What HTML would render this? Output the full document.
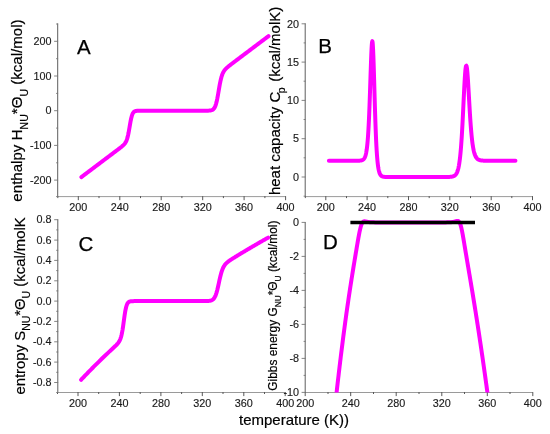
<!DOCTYPE html>
<html><head><meta charset="utf-8"><title>figure</title>
<style>html,body{margin:0;padding:0;background:#fff}svg{display:block}</style></head>
<body>
<svg width="550" height="434" viewBox="0 0 550 434" font-family="'Liberation Sans', Arial, sans-serif">
<rect width="550" height="434" fill="#fff"/>
<path d="M57.7,196.6 H285.8" fill="none" stroke="#8f8f8f" stroke-width="0.9"/>
<path d="M57.7,23.4 V196.6" fill="none" stroke="#5e5e5e" stroke-width="1"/>
<path d="M78.3,196.2 v4 M119.8,196.2 v4 M161.2,196.2 v4 M202.7,196.2 v4 M244.1,196.2 v4 M285.6,196.2 v4 M57.8,196.2 v1.9 M99.0,196.2 v1.9 M140.5,196.2 v1.9 M181.9,196.2 v1.9 M223.4,196.2 v1.9 M264.9,196.2 v1.9 " fill="none" stroke="#444" stroke-width="0.9"/>
<path d="M58.1,41.3 h-4 M58.1,76.0 h-4 M58.1,110.7 h-4 M58.1,145.4 h-4 M58.1,180.1 h-4 M58.1,24.0 h-2.0 M58.1,58.7 h-2.0 M58.1,93.4 h-2.0 M58.1,128.1 h-2.0 M58.1,162.8 h-2.0 M58.1,196.6 h-2.0 " fill="none" stroke="#777" stroke-width="0.9"/>
<text x="78.3" y="211.1" font-size="10.8" text-anchor="middle" fill="#1a1a1a" stroke="#1a1a1a" stroke-width="0.15">200</text>
<text x="119.8" y="211.1" font-size="10.8" text-anchor="middle" fill="#1a1a1a" stroke="#1a1a1a" stroke-width="0.15">240</text>
<text x="161.2" y="211.1" font-size="10.8" text-anchor="middle" fill="#1a1a1a" stroke="#1a1a1a" stroke-width="0.15">280</text>
<text x="202.7" y="211.1" font-size="10.8" text-anchor="middle" fill="#1a1a1a" stroke="#1a1a1a" stroke-width="0.15">320</text>
<text x="244.1" y="211.1" font-size="10.8" text-anchor="middle" fill="#1a1a1a" stroke="#1a1a1a" stroke-width="0.15">360</text>
<text x="285.6" y="211.1" font-size="10.8" text-anchor="middle" fill="#1a1a1a" stroke="#1a1a1a" stroke-width="0.15">400</text>
<text x="51.5" y="45.0" font-size="10.8" text-anchor="end" fill="#1a1a1a" stroke="#1a1a1a" stroke-width="0.15">200</text>
<text x="51.5" y="79.7" font-size="10.8" text-anchor="end" fill="#1a1a1a" stroke="#1a1a1a" stroke-width="0.15">100</text>
<text x="51.5" y="114.4" font-size="10.8" text-anchor="end" fill="#1a1a1a" stroke="#1a1a1a" stroke-width="0.15">0</text>
<text x="51.5" y="149.1" font-size="10.8" text-anchor="end" fill="#1a1a1a" stroke="#1a1a1a" stroke-width="0.15">-100</text>
<text x="51.5" y="183.8" font-size="10.8" text-anchor="end" fill="#1a1a1a" stroke="#1a1a1a" stroke-width="0.15">-200</text>
<path d="M81.41,177.06 L81.93,176.67 L82.45,176.28 L82.96,175.89 L83.48,175.50 L84.00,175.11 L84.52,174.72 L85.04,174.33 L85.56,173.94 L86.07,173.55 L86.59,173.16 L87.11,172.77 L87.63,172.38 L88.15,171.99 L88.66,171.60 L89.18,171.21 L89.70,170.82 L90.22,170.43 L90.74,170.04 L91.26,169.65 L91.77,169.26 L92.29,168.87 L92.81,168.48 L93.33,168.09 L93.85,167.69 L94.37,167.30 L94.88,166.91 L95.40,166.52 L95.92,166.13 L96.44,165.74 L96.96,165.35 L97.48,164.96 L97.99,164.57 L98.51,164.18 L99.03,163.79 L99.55,163.40 L100.07,163.01 L100.58,162.62 L101.10,162.23 L101.62,161.84 L102.14,161.45 L102.66,161.06 L103.18,160.67 L103.69,160.28 L104.21,159.89 L104.73,159.50 L105.25,159.11 L105.77,158.72 L106.29,158.33 L106.80,157.94 L107.32,157.54 L107.84,157.15 L108.36,156.76 L108.88,156.37 L109.39,155.98 L109.91,155.59 L110.43,155.20 L110.95,154.81 L111.47,154.42 L111.99,154.03 L112.50,153.64 L113.02,153.25 L113.54,152.86 L114.06,152.47 L114.58,152.08 L115.10,151.69 L115.61,151.30 L116.13,150.91 L116.65,150.52 L117.17,150.12 L117.69,149.73 L118.21,149.34 L118.72,148.95 L119.24,148.55 L119.76,148.15 L120.28,147.75 L120.80,147.35 L121.31,146.94 L121.83,146.52 L122.35,146.08 L122.87,145.63 L123.39,145.15 L123.91,144.63 L124.42,144.05 L124.94,143.39 L125.46,142.62 L125.98,141.69 L126.50,140.55 L127.02,139.15 L127.53,137.40 L128.05,135.28 L128.57,132.77 L129.09,129.93 L129.61,126.88 L130.12,123.83 L130.64,120.97 L131.16,118.47 L131.68,116.41 L132.20,114.79 L132.72,113.58 L133.23,112.70 L133.75,112.07 L134.27,111.64 L134.79,111.34 L135.31,111.13 L135.83,110.99 L136.34,110.89 L136.86,110.83 L137.38,110.79 L137.90,110.76 L138.42,110.74 L138.94,110.73 L139.45,110.72 L139.97,110.71 L140.49,110.71 L141.01,110.71 L141.53,110.70 L142.04,110.70 L142.56,110.70 L143.08,110.70 L143.60,110.70 L144.12,110.70 L144.64,110.70 L145.15,110.70 L145.67,110.70 L146.19,110.70 L146.71,110.70 L147.23,110.70 L147.75,110.70 L148.26,110.70 L148.78,110.70 L149.30,110.70 L149.82,110.70 L150.34,110.70 L150.85,110.70 L151.37,110.70 L151.89,110.70 L152.41,110.70 L152.93,110.70 L153.45,110.70 L153.96,110.70 L154.48,110.70 L155.00,110.70 L155.52,110.70 L156.04,110.70 L156.56,110.70 L157.07,110.70 L157.59,110.70 L158.11,110.70 L158.63,110.70 L159.15,110.70 L159.67,110.70 L160.18,110.70 L160.70,110.70 L161.22,110.70 L161.74,110.70 L162.26,110.70 L162.77,110.70 L163.29,110.70 L163.81,110.70 L164.33,110.70 L164.85,110.70 L165.37,110.70 L165.88,110.70 L166.40,110.70 L166.92,110.70 L167.44,110.70 L167.96,110.70 L168.48,110.70 L168.99,110.70 L169.51,110.70 L170.03,110.70 L170.55,110.70 L171.07,110.70 L171.58,110.70 L172.10,110.70 L172.62,110.70 L173.14,110.70 L173.66,110.70 L174.18,110.70 L174.69,110.70 L175.21,110.70 L175.73,110.70 L176.25,110.70 L176.77,110.70 L177.29,110.70 L177.80,110.70 L178.32,110.70 L178.84,110.70 L179.36,110.70 L179.88,110.70 L180.40,110.70 L180.91,110.70 L181.43,110.70 L181.95,110.70 L182.47,110.70 L182.99,110.70 L183.50,110.70 L184.02,110.70 L184.54,110.70 L185.06,110.70 L185.58,110.70 L186.10,110.70 L186.61,110.70 L187.13,110.70 L187.65,110.70 L188.17,110.70 L188.69,110.70 L189.21,110.70 L189.72,110.70 L190.24,110.70 L190.76,110.70 L191.28,110.70 L191.80,110.70 L192.31,110.70 L192.83,110.70 L193.35,110.70 L193.87,110.70 L194.39,110.70 L194.91,110.70 L195.42,110.70 L195.94,110.70 L196.46,110.70 L196.98,110.70 L197.50,110.70 L198.02,110.70 L198.53,110.70 L199.05,110.70 L199.57,110.70 L200.09,110.70 L200.61,110.70 L201.13,110.70 L201.64,110.70 L202.16,110.70 L202.68,110.70 L203.20,110.70 L203.72,110.70 L204.23,110.70 L204.75,110.69 L205.27,110.69 L205.79,110.69 L206.31,110.68 L206.83,110.67 L207.34,110.66 L207.86,110.65 L208.38,110.63 L208.90,110.61 L209.42,110.57 L209.94,110.52 L210.45,110.45 L210.97,110.36 L211.49,110.23 L212.01,110.05 L212.53,109.81 L213.05,109.48 L213.56,109.03 L214.08,108.43 L214.60,107.64 L215.12,106.61 L215.64,105.28 L216.15,103.61 L216.67,101.58 L217.19,99.18 L217.71,96.46 L218.23,93.50 L218.75,90.42 L219.26,87.37 L219.78,84.47 L220.30,81.82 L220.82,79.47 L221.34,77.44 L221.86,75.72 L222.37,74.27 L222.89,73.05 L223.41,72.03 L223.93,71.15 L224.45,70.39 L224.96,69.73 L225.48,69.13 L226.00,68.59 L226.52,68.08 L227.04,67.61 L227.56,67.16 L228.07,66.72 L228.59,66.29 L229.11,65.88 L229.63,65.47 L230.15,65.07 L230.67,64.66 L231.18,64.27 L231.70,63.87 L232.22,63.48 L232.74,63.08 L233.26,62.69 L233.77,62.30 L234.29,61.91 L234.81,61.52 L235.33,61.12 L235.85,60.73 L236.37,60.34 L236.88,59.95 L237.40,59.56 L237.92,59.17 L238.44,58.78 L238.96,58.39 L239.48,58.00 L239.99,57.61 L240.51,57.22 L241.03,56.83 L241.55,56.44 L242.07,56.05 L242.59,55.66 L243.10,55.27 L243.62,54.88 L244.14,54.49 L244.66,54.10 L245.18,53.71 L245.69,53.31 L246.21,52.92 L246.73,52.53 L247.25,52.14 L247.77,51.75 L248.29,51.36 L248.80,50.97 L249.32,50.58 L249.84,50.19 L250.36,49.80 L250.88,49.41 L251.40,49.02 L251.91,48.63 L252.43,48.24 L252.95,47.85 L253.47,47.46 L253.99,47.07 L254.50,46.68 L255.02,46.29 L255.54,45.90 L256.06,45.51 L256.58,45.12 L257.10,44.73 L257.61,44.34 L258.13,43.95 L258.65,43.56 L259.17,43.17 L259.69,42.77 L260.21,42.38 L260.72,41.99 L261.24,41.60 L261.76,41.21 L262.28,40.82 L262.80,40.43 L263.32,40.04 L263.83,39.65 L264.35,39.26 L264.87,38.87 L265.39,38.48 L265.91,38.09 L266.42,37.70 L266.94,37.31 L267.46,36.92 L267.98,36.53 L268.50,36.14" fill="none" stroke="#ff00ff" stroke-width="4.0" stroke-linecap="round" stroke-linejoin="round"/>
<text x="77.1" y="54.2" font-size="20.5" stroke="#000" stroke-width="0.25">A</text>
<path d="M305.2,196.6 H532.8" fill="none" stroke="#8f8f8f" stroke-width="0.9"/>
<path d="M305.2,23.4 V196.6" fill="none" stroke="#5e5e5e" stroke-width="1"/>
<path d="M325.8,196.2 v4 M367.1,196.2 v4 M408.5,196.2 v4 M449.8,196.2 v4 M491.2,196.2 v4 M532.5,196.2 v4 M305.3,196.2 v1.9 M346.5,196.2 v1.9 M387.8,196.2 v1.9 M429.2,196.2 v1.9 M470.5,196.2 v1.9 M511.8,196.2 v1.9 " fill="none" stroke="#444" stroke-width="0.9"/>
<path d="M305.59999999999997,23.8 h-4 M305.59999999999997,62.1 h-4 M305.59999999999997,100.4 h-4 M305.59999999999997,138.7 h-4 M305.59999999999997,177.0 h-4 M305.59999999999997,42.9 h-2.0 M305.59999999999997,81.2 h-2.0 M305.59999999999997,119.5 h-2.0 M305.59999999999997,157.8 h-2.0 M305.59999999999997,196.2 h-2.0 " fill="none" stroke="#777" stroke-width="0.9"/>
<text x="325.8" y="211.1" font-size="10.8" text-anchor="middle" fill="#1a1a1a" stroke="#1a1a1a" stroke-width="0.15">200</text>
<text x="367.1" y="211.1" font-size="10.8" text-anchor="middle" fill="#1a1a1a" stroke="#1a1a1a" stroke-width="0.15">240</text>
<text x="408.5" y="211.1" font-size="10.8" text-anchor="middle" fill="#1a1a1a" stroke="#1a1a1a" stroke-width="0.15">280</text>
<text x="449.8" y="211.1" font-size="10.8" text-anchor="middle" fill="#1a1a1a" stroke="#1a1a1a" stroke-width="0.15">320</text>
<text x="491.2" y="211.1" font-size="10.8" text-anchor="middle" fill="#1a1a1a" stroke="#1a1a1a" stroke-width="0.15">360</text>
<text x="532.5" y="211.1" font-size="10.8" text-anchor="middle" fill="#1a1a1a" stroke="#1a1a1a" stroke-width="0.15">400</text>
<text x="299.0" y="27.5" font-size="10.8" text-anchor="end" fill="#1a1a1a" stroke="#1a1a1a" stroke-width="0.15">20</text>
<text x="299.0" y="65.8" font-size="10.8" text-anchor="end" fill="#1a1a1a" stroke="#1a1a1a" stroke-width="0.15">15</text>
<text x="299.0" y="104.1" font-size="10.8" text-anchor="end" fill="#1a1a1a" stroke="#1a1a1a" stroke-width="0.15">10</text>
<text x="299.0" y="142.3" font-size="10.8" text-anchor="end" fill="#1a1a1a" stroke="#1a1a1a" stroke-width="0.15">5</text>
<text x="299.0" y="180.7" font-size="10.8" text-anchor="end" fill="#1a1a1a" stroke="#1a1a1a" stroke-width="0.15">0</text>
<path d="M328.90,160.76 L329.16,160.76 L329.42,160.76 L329.68,160.76 L329.93,160.76 L330.19,160.76 L330.45,160.76 L330.71,160.76 L330.97,160.76 L331.23,160.76 L331.48,160.76 L331.74,160.76 L332.00,160.76 L332.26,160.76 L332.52,160.76 L332.78,160.76 L333.03,160.76 L333.29,160.76 L333.55,160.76 L333.81,160.76 L334.07,160.76 L334.33,160.76 L334.58,160.76 L334.84,160.76 L335.10,160.76 L335.36,160.76 L335.62,160.76 L335.88,160.76 L336.13,160.76 L336.39,160.76 L336.65,160.76 L336.91,160.76 L337.17,160.76 L337.43,160.76 L337.69,160.76 L337.94,160.76 L338.20,160.76 L338.46,160.76 L338.72,160.76 L338.98,160.76 L339.24,160.76 L339.49,160.76 L339.75,160.76 L340.01,160.76 L340.27,160.76 L340.53,160.76 L340.79,160.76 L341.04,160.76 L341.30,160.76 L341.56,160.76 L341.82,160.76 L342.08,160.76 L342.34,160.76 L342.59,160.76 L342.85,160.76 L343.11,160.76 L343.37,160.76 L343.63,160.76 L343.89,160.76 L344.14,160.76 L344.40,160.76 L344.66,160.76 L344.92,160.76 L345.18,160.76 L345.44,160.76 L345.69,160.76 L345.95,160.76 L346.21,160.76 L346.47,160.76 L346.73,160.76 L346.99,160.76 L347.25,160.76 L347.50,160.76 L347.76,160.76 L348.02,160.76 L348.28,160.76 L348.54,160.76 L348.80,160.76 L349.05,160.76 L349.31,160.76 L349.57,160.76 L349.83,160.76 L350.09,160.76 L350.35,160.76 L350.60,160.76 L350.86,160.76 L351.12,160.76 L351.38,160.76 L351.64,160.76 L351.90,160.76 L352.15,160.76 L352.41,160.76 L352.67,160.76 L352.93,160.76 L353.19,160.76 L353.45,160.76 L353.70,160.76 L353.96,160.76 L354.22,160.76 L354.48,160.76 L354.74,160.76 L355.00,160.75 L355.25,160.75 L355.51,160.75 L355.77,160.75 L356.03,160.75 L356.29,160.75 L356.55,160.74 L356.81,160.74 L357.06,160.74 L357.32,160.73 L357.58,160.73 L357.84,160.72 L358.10,160.72 L358.36,160.71 L358.61,160.70 L358.87,160.69 L359.13,160.68 L359.39,160.66 L359.65,160.64 L359.91,160.62 L360.16,160.59 L360.42,160.56 L360.68,160.53 L360.94,160.48 L361.20,160.43 L361.46,160.37 L361.71,160.30 L361.97,160.22 L362.23,160.12 L362.49,160.01 L362.75,159.87 L363.01,159.71 L363.26,159.52 L363.52,159.29 L363.78,159.02 L364.04,158.71 L364.30,158.34 L364.56,157.90 L364.81,157.39 L365.07,156.79 L365.33,156.07 L365.59,155.24 L365.85,154.26 L366.11,153.11 L366.36,151.76 L366.62,150.19 L366.88,148.36 L367.14,146.23 L367.40,143.77 L367.66,140.92 L367.92,137.65 L368.17,133.91 L368.43,129.66 L368.69,124.86 L368.95,119.49 L369.21,113.54 L369.47,107.03 L369.72,100.00 L369.98,92.54 L370.24,84.78 L370.50,76.89 L370.76,69.11 L371.02,61.72 L371.27,55.01 L371.53,49.32 L371.79,44.94 L372.05,42.16 L372.31,41.15 L372.57,42.02 L372.82,44.77 L373.08,49.26 L373.34,55.30 L373.60,62.58 L373.86,70.78 L374.12,79.56 L374.37,88.60 L374.63,97.60 L374.89,106.34 L375.15,114.64 L375.41,122.36 L375.67,129.44 L375.92,135.83 L376.18,141.54 L376.44,146.59 L376.70,151.02 L376.96,154.88 L377.22,158.21 L377.48,161.08 L377.73,163.54 L377.99,165.64 L378.25,167.42 L378.51,168.94 L378.77,170.22 L379.03,171.31 L379.28,172.22 L379.54,172.99 L379.80,173.64 L380.06,174.18 L380.32,174.64 L380.58,175.02 L380.83,175.35 L381.09,175.62 L381.35,175.84 L381.61,176.03 L381.87,176.19 L382.13,176.32 L382.38,176.43 L382.64,176.53 L382.90,176.60 L383.16,176.67 L383.42,176.72 L383.68,176.77 L383.93,176.81 L384.19,176.84 L384.45,176.87 L384.71,176.89 L384.97,176.91 L385.23,176.92 L385.48,176.93 L385.74,176.95 L386.00,176.95 L386.26,176.96 L386.52,176.97 L386.78,176.97 L387.03,176.98 L387.29,176.98 L387.55,176.98 L387.81,176.99 L388.07,176.99 L388.33,176.99 L388.59,176.99 L388.84,176.99 L389.10,176.99 L389.36,177.00 L389.62,177.00 L389.88,177.00 L390.14,177.00 L390.39,177.00 L390.65,177.00 L390.91,177.00 L391.17,177.00 L391.43,177.00 L391.69,177.00 L391.94,177.00 L392.20,177.00 L392.46,177.00 L392.72,177.00 L392.98,177.00 L393.24,177.00 L393.49,177.00 L393.75,177.00 L394.01,177.00 L394.27,177.00 L394.53,177.00 L394.79,177.00 L395.04,177.00 L395.30,177.00 L395.56,177.00 L395.82,177.00 L396.08,177.00 L396.34,177.00 L396.59,177.00 L396.85,177.00 L397.11,177.00 L397.37,177.00 L397.63,177.00 L397.89,177.00 L398.14,177.00 L398.40,177.00 L398.66,177.00 L398.92,177.00 L399.18,177.00 L399.44,177.00 L399.70,177.00 L399.95,177.00 L400.21,177.00 L400.47,177.00 L400.73,177.00 L400.99,177.00 L401.25,177.00 L401.50,177.00 L401.76,177.00 L402.02,177.00 L402.28,177.00 L402.54,177.00 L402.80,177.00 L403.05,177.00 L403.31,177.00 L403.57,177.00 L403.83,177.00 L404.09,177.00 L404.35,177.00 L404.60,177.00 L404.86,177.00 L405.12,177.00 L405.38,177.00 L405.64,177.00 L405.90,177.00 L406.15,177.00 L406.41,177.00 L406.67,177.00 L406.93,177.00 L407.19,177.00 L407.45,177.00 L407.70,177.00 L407.96,177.00 L408.22,177.00 L408.48,177.00 L408.74,177.00 L409.00,177.00 L409.26,177.00 L409.51,177.00 L409.77,177.00 L410.03,177.00 L410.29,177.00 L410.55,177.00 L410.81,177.00 L411.06,177.00 L411.32,177.00 L411.58,177.00 L411.84,177.00 L412.10,177.00 L412.36,177.00 L412.61,177.00 L412.87,177.00 L413.13,177.00 L413.39,177.00 L413.65,177.00 L413.91,177.00 L414.16,177.00 L414.42,177.00 L414.68,177.00 L414.94,177.00 L415.20,177.00 L415.46,177.00 L415.71,177.00 L415.97,177.00 L416.23,177.00 L416.49,177.00 L416.75,177.00 L417.01,177.00 L417.26,177.00 L417.52,177.00 L417.78,177.00 L418.04,177.00 L418.30,177.00 L418.56,177.00 L418.82,177.00 L419.07,177.00 L419.33,177.00 L419.59,177.00 L419.85,177.00 L420.11,177.00 L420.37,177.00 L420.62,177.00 L420.88,177.00 L421.14,177.00 L421.40,177.00 L421.66,177.00 L421.92,177.00 L422.17,177.00 L422.43,177.00 L422.69,177.00 L422.95,177.00 L423.21,177.00 L423.47,177.00 L423.72,177.00 L423.98,177.00 L424.24,177.00 L424.50,177.00 L424.76,177.00 L425.02,177.00 L425.27,177.00 L425.53,177.00 L425.79,177.00 L426.05,177.00 L426.31,177.00 L426.57,177.00 L426.82,177.00 L427.08,177.00 L427.34,177.00 L427.60,177.00 L427.86,177.00 L428.12,177.00 L428.37,177.00 L428.63,177.00 L428.89,177.00 L429.15,177.00 L429.41,177.00 L429.67,177.00 L429.93,177.00 L430.18,177.00 L430.44,177.00 L430.70,177.00 L430.96,177.00 L431.22,177.00 L431.48,177.00 L431.73,177.00 L431.99,177.00 L432.25,177.00 L432.51,177.00 L432.77,177.00 L433.03,177.00 L433.28,177.00 L433.54,177.00 L433.80,177.00 L434.06,177.00 L434.32,177.00 L434.58,177.00 L434.83,177.00 L435.09,177.00 L435.35,177.00 L435.61,177.00 L435.87,177.00 L436.13,177.00 L436.38,177.00 L436.64,177.00 L436.90,177.00 L437.16,177.00 L437.42,177.00 L437.68,177.00 L437.93,177.00 L438.19,177.00 L438.45,177.00 L438.71,177.00 L438.97,177.00 L439.23,177.00 L439.49,177.00 L439.74,177.00 L440.00,177.00 L440.26,177.00 L440.52,177.00 L440.78,177.00 L441.04,177.00 L441.29,177.00 L441.55,177.00 L441.81,177.00 L442.07,177.00 L442.33,177.00 L442.59,177.00 L442.84,177.00 L443.10,177.00 L443.36,177.00 L443.62,177.00 L443.88,176.99 L444.14,176.99 L444.39,176.99 L444.65,176.99 L444.91,176.99 L445.17,176.99 L445.43,176.99 L445.69,176.99 L445.94,176.98 L446.20,176.98 L446.46,176.98 L446.72,176.98 L446.98,176.97 L447.24,176.97 L447.49,176.96 L447.75,176.96 L448.01,176.95 L448.27,176.95 L448.53,176.94 L448.79,176.93 L449.04,176.92 L449.30,176.91 L449.56,176.90 L449.82,176.88 L450.08,176.86 L450.34,176.84 L450.60,176.82 L450.85,176.80 L451.11,176.77 L451.37,176.74 L451.63,176.70 L451.89,176.66 L452.15,176.61 L452.40,176.55 L452.66,176.49 L452.92,176.42 L453.18,176.34 L453.44,176.24 L453.70,176.14 L453.95,176.02 L454.21,175.88 L454.47,175.72 L454.73,175.55 L454.99,175.34 L455.25,175.11 L455.50,174.85 L455.76,174.55 L456.02,174.22 L456.28,173.83 L456.54,173.40 L456.80,172.90 L457.05,172.34 L457.31,171.71 L457.57,170.99 L457.83,170.18 L458.09,169.27 L458.35,168.24 L458.60,167.07 L458.86,165.77 L459.12,164.30 L459.38,162.66 L459.64,160.83 L459.90,158.78 L460.16,156.51 L460.41,154.00 L460.67,151.22 L460.93,148.17 L461.19,144.83 L461.45,141.20 L461.71,137.27 L461.96,133.05 L462.22,128.54 L462.48,123.77 L462.74,118.77 L463.00,113.58 L463.26,108.26 L463.51,102.87 L463.77,97.50 L464.03,92.23 L464.29,87.17 L464.55,82.42 L464.81,78.09 L465.06,74.28 L465.32,71.08 L465.58,68.57 L465.84,66.81 L466.10,65.85 L466.36,65.69 L466.61,66.32 L466.87,67.71 L467.13,69.81 L467.39,72.53 L467.65,75.79 L467.91,79.50 L468.16,83.56 L468.42,87.87 L468.68,92.33 L468.94,96.87 L469.20,101.40 L469.46,105.87 L469.71,110.21 L469.97,114.39 L470.23,118.37 L470.49,122.14 L470.75,125.67 L471.01,128.97 L471.27,132.02 L471.52,134.83 L471.78,137.42 L472.04,139.78 L472.30,141.93 L472.56,143.89 L472.82,145.66 L473.07,147.25 L473.33,148.70 L473.59,149.99 L473.85,151.16 L474.11,152.20 L474.37,153.14 L474.62,153.98 L474.88,154.72 L475.14,155.39 L475.40,155.99 L475.66,156.52 L475.92,156.99 L476.17,157.41 L476.43,157.79 L476.69,158.12 L476.95,158.42 L477.21,158.68 L477.47,158.92 L477.72,159.13 L477.98,159.31 L478.24,159.47 L478.50,159.62 L478.76,159.75 L479.02,159.86 L479.27,159.97 L479.53,160.06 L479.79,160.14 L480.05,160.21 L480.31,160.27 L480.57,160.33 L480.83,160.37 L481.08,160.42 L481.34,160.46 L481.60,160.49 L481.86,160.52 L482.12,160.55 L482.38,160.57 L482.63,160.59 L482.89,160.61 L483.15,160.63 L483.41,160.65 L483.67,160.66 L483.93,160.67 L484.18,160.68 L484.44,160.69 L484.70,160.70 L484.96,160.70 L485.22,160.71 L485.48,160.72 L485.73,160.72 L485.99,160.73 L486.25,160.73 L486.51,160.73 L486.77,160.74 L487.03,160.74 L487.28,160.74 L487.54,160.74 L487.80,160.75 L488.06,160.75 L488.32,160.75 L488.58,160.75 L488.83,160.75 L489.09,160.75 L489.35,160.75 L489.61,160.75 L489.87,160.76 L490.13,160.76 L490.38,160.76 L490.64,160.76 L490.90,160.76 L491.16,160.76 L491.42,160.76 L491.68,160.76 L491.94,160.76 L492.19,160.76 L492.45,160.76 L492.71,160.76 L492.97,160.76 L493.23,160.76 L493.49,160.76 L493.74,160.76 L494.00,160.76 L494.26,160.76 L494.52,160.76 L494.78,160.76 L495.04,160.76 L495.29,160.76 L495.55,160.76 L495.81,160.76 L496.07,160.76 L496.33,160.76 L496.59,160.76 L496.84,160.76 L497.10,160.76 L497.36,160.76 L497.62,160.76 L497.88,160.76 L498.14,160.76 L498.39,160.76 L498.65,160.76 L498.91,160.76 L499.17,160.76 L499.43,160.76 L499.69,160.76 L499.94,160.76 L500.20,160.76 L500.46,160.76 L500.72,160.76 L500.98,160.76 L501.24,160.76 L501.50,160.76 L501.75,160.76 L502.01,160.76 L502.27,160.76 L502.53,160.76 L502.79,160.76 L503.05,160.76 L503.30,160.76 L503.56,160.76 L503.82,160.76 L504.08,160.76 L504.34,160.76 L504.60,160.76 L504.85,160.76 L505.11,160.76 L505.37,160.76 L505.63,160.76 L505.89,160.76 L506.15,160.76 L506.40,160.76 L506.66,160.76 L506.92,160.76 L507.18,160.76 L507.44,160.76 L507.70,160.76 L507.95,160.76 L508.21,160.76 L508.47,160.76 L508.73,160.76 L508.99,160.76 L509.25,160.76 L509.50,160.76 L509.76,160.76 L510.02,160.76 L510.28,160.76 L510.54,160.76 L510.80,160.76 L511.05,160.76 L511.31,160.76 L511.57,160.76 L511.83,160.76 L512.09,160.76 L512.35,160.76 L512.61,160.76 L512.86,160.76 L513.12,160.76 L513.38,160.76 L513.64,160.76 L513.90,160.76 L514.16,160.76 L514.41,160.76 L514.67,160.76 L514.93,160.76 L515.19,160.76 L515.45,160.76" fill="none" stroke="#ff00ff" stroke-width="4.0" stroke-linecap="round" stroke-linejoin="round"/>
<text x="318.2" y="53.1" font-size="20.5" stroke="#000" stroke-width="0.25">B</text>
<path d="M57.8,392.5 H285.8" fill="none" stroke="#8f8f8f" stroke-width="0.9"/>
<path d="M57.8,219.4 V392.5" fill="none" stroke="#5e5e5e" stroke-width="1"/>
<path d="M78.0,392.1 v4 M119.4,392.1 v4 M160.9,392.1 v4 M202.3,392.1 v4 M243.8,392.1 v4 M285.2,392.1 v4 M57.5,392.1 v1.9 M98.7,392.1 v1.9 M140.2,392.1 v1.9 M181.6,392.1 v1.9 M223.0,392.1 v1.9 M264.5,392.1 v1.9 " fill="none" stroke="#444" stroke-width="0.9"/>
<path d="M58.199999999999996,219.7 h-4 M58.199999999999996,240.1 h-4 M58.199999999999996,260.4 h-4 M58.199999999999996,280.8 h-4 M58.199999999999996,301.1 h-4 M58.199999999999996,321.4 h-4 M58.199999999999996,341.8 h-4 M58.199999999999996,362.1 h-4 M58.199999999999996,382.5 h-4 M58.199999999999996,229.9 h-2.0 M58.199999999999996,250.3 h-2.0 M58.199999999999996,270.6 h-2.0 M58.199999999999996,290.9 h-2.0 M58.199999999999996,311.3 h-2.0 M58.199999999999996,331.6 h-2.0 M58.199999999999996,352.0 h-2.0 M58.199999999999996,372.3 h-2.0 M58.199999999999996,392.5 h-2.0 " fill="none" stroke="#777" stroke-width="0.9"/>
<text x="78.0" y="406.7" font-size="10.8" text-anchor="middle" fill="#1a1a1a" stroke="#1a1a1a" stroke-width="0.15">200</text>
<text x="119.4" y="406.7" font-size="10.8" text-anchor="middle" fill="#1a1a1a" stroke="#1a1a1a" stroke-width="0.15">240</text>
<text x="160.9" y="406.7" font-size="10.8" text-anchor="middle" fill="#1a1a1a" stroke="#1a1a1a" stroke-width="0.15">280</text>
<text x="202.3" y="406.7" font-size="10.8" text-anchor="middle" fill="#1a1a1a" stroke="#1a1a1a" stroke-width="0.15">320</text>
<text x="243.8" y="406.7" font-size="10.8" text-anchor="middle" fill="#1a1a1a" stroke="#1a1a1a" stroke-width="0.15">360</text>
<text x="285.2" y="406.7" font-size="10.8" text-anchor="middle" fill="#1a1a1a" stroke="#1a1a1a" stroke-width="0.15">400</text>
<text x="51.599999999999994" y="223.4" font-size="10.8" text-anchor="end" fill="#1a1a1a" stroke="#1a1a1a" stroke-width="0.15">0.8</text>
<text x="51.599999999999994" y="243.7" font-size="10.8" text-anchor="end" fill="#1a1a1a" stroke="#1a1a1a" stroke-width="0.15">0.6</text>
<text x="51.599999999999994" y="264.1" font-size="10.8" text-anchor="end" fill="#1a1a1a" stroke="#1a1a1a" stroke-width="0.15">0.4</text>
<text x="51.599999999999994" y="284.4" font-size="10.8" text-anchor="end" fill="#1a1a1a" stroke="#1a1a1a" stroke-width="0.15">0.2</text>
<text x="51.599999999999994" y="304.8" font-size="10.8" text-anchor="end" fill="#1a1a1a" stroke="#1a1a1a" stroke-width="0.15">0.0</text>
<text x="51.599999999999994" y="325.1" font-size="10.8" text-anchor="end" fill="#1a1a1a" stroke="#1a1a1a" stroke-width="0.15">-0.2</text>
<text x="51.599999999999994" y="345.4" font-size="10.8" text-anchor="end" fill="#1a1a1a" stroke="#1a1a1a" stroke-width="0.15">-0.4</text>
<text x="51.599999999999994" y="365.8" font-size="10.8" text-anchor="end" fill="#1a1a1a" stroke="#1a1a1a" stroke-width="0.15">-0.6</text>
<text x="51.599999999999994" y="386.1" font-size="10.8" text-anchor="end" fill="#1a1a1a" stroke="#1a1a1a" stroke-width="0.15">-0.8</text>
<path d="M81.11,379.79 L81.63,379.24 L82.14,378.69 L82.66,378.14 L83.18,377.60 L83.70,377.05 L84.22,376.51 L84.73,375.97 L85.25,375.43 L85.77,374.89 L86.29,374.35 L86.81,373.82 L87.32,373.28 L87.84,372.75 L88.36,372.21 L88.88,371.68 L89.40,371.15 L89.91,370.62 L90.43,370.10 L90.95,369.57 L91.47,369.05 L91.99,368.52 L92.50,368.00 L93.02,367.48 L93.54,366.96 L94.06,366.44 L94.58,365.92 L95.09,365.40 L95.61,364.89 L96.13,364.37 L96.65,363.86 L97.17,363.35 L97.68,362.84 L98.20,362.33 L98.72,361.82 L99.24,361.31 L99.76,360.81 L100.27,360.30 L100.79,359.80 L101.31,359.30 L101.83,358.79 L102.35,358.29 L102.86,357.79 L103.38,357.30 L103.90,356.80 L104.42,356.30 L104.94,355.81 L105.45,355.31 L105.97,354.82 L106.49,354.33 L107.01,353.84 L107.53,353.35 L108.04,352.86 L108.56,352.37 L109.08,351.89 L109.60,351.40 L110.12,350.92 L110.63,350.43 L111.15,349.95 L111.67,349.47 L112.19,348.99 L112.71,348.50 L113.22,348.02 L113.74,347.54 L114.26,347.05 L114.78,346.56 L115.30,346.06 L115.81,345.56 L116.33,345.04 L116.85,344.50 L117.37,343.94 L117.89,343.33 L118.40,342.66 L118.92,341.90 L119.44,341.03 L119.96,339.98 L120.48,338.70 L120.99,337.12 L121.51,335.15 L122.03,332.73 L122.55,329.82 L123.07,326.46 L123.58,322.76 L124.10,318.95 L124.62,315.28 L125.14,311.97 L125.66,309.18 L126.17,306.96 L126.69,305.25 L127.21,304.00 L127.73,303.10 L128.25,302.47 L128.76,302.03 L129.28,301.73 L129.80,301.53 L130.32,301.39 L130.84,301.29 L131.35,301.23 L131.87,301.19 L132.39,301.16 L132.91,301.14 L133.43,301.13 L133.94,301.12 L134.46,301.11 L134.98,301.11 L135.50,301.11 L136.02,301.10 L136.53,301.10 L137.05,301.10 L137.57,301.10 L138.09,301.10 L138.61,301.10 L139.12,301.10 L139.64,301.10 L140.16,301.10 L140.68,301.10 L141.20,301.10 L141.71,301.10 L142.23,301.10 L142.75,301.10 L143.27,301.10 L143.79,301.10 L144.30,301.10 L144.82,301.10 L145.34,301.10 L145.86,301.10 L146.38,301.10 L146.89,301.10 L147.41,301.10 L147.93,301.10 L148.45,301.10 L148.97,301.10 L149.48,301.10 L150.00,301.10 L150.52,301.10 L151.04,301.10 L151.56,301.10 L152.07,301.10 L152.59,301.10 L153.11,301.10 L153.63,301.10 L154.15,301.10 L154.66,301.10 L155.18,301.10 L155.70,301.10 L156.22,301.10 L156.74,301.10 L157.25,301.10 L157.77,301.10 L158.29,301.10 L158.81,301.10 L159.33,301.10 L159.84,301.10 L160.36,301.10 L160.88,301.10 L161.40,301.10 L161.92,301.10 L162.43,301.10 L162.95,301.10 L163.47,301.10 L163.99,301.10 L164.51,301.10 L165.02,301.10 L165.54,301.10 L166.06,301.10 L166.58,301.10 L167.10,301.10 L167.61,301.10 L168.13,301.10 L168.65,301.10 L169.17,301.10 L169.69,301.10 L170.20,301.10 L170.72,301.10 L171.24,301.10 L171.76,301.10 L172.28,301.10 L172.79,301.10 L173.31,301.10 L173.83,301.10 L174.35,301.10 L174.87,301.10 L175.38,301.10 L175.90,301.10 L176.42,301.10 L176.94,301.10 L177.46,301.10 L177.97,301.10 L178.49,301.10 L179.01,301.10 L179.53,301.10 L180.05,301.10 L180.56,301.10 L181.08,301.10 L181.60,301.10 L182.12,301.10 L182.64,301.10 L183.15,301.10 L183.67,301.10 L184.19,301.10 L184.71,301.10 L185.23,301.10 L185.74,301.10 L186.26,301.10 L186.78,301.10 L187.30,301.10 L187.82,301.10 L188.33,301.10 L188.85,301.10 L189.37,301.10 L189.89,301.10 L190.41,301.10 L190.92,301.10 L191.44,301.10 L191.96,301.10 L192.48,301.10 L193.00,301.10 L193.51,301.10 L194.03,301.10 L194.55,301.10 L195.07,301.10 L195.59,301.10 L196.10,301.10 L196.62,301.10 L197.14,301.10 L197.66,301.10 L198.18,301.10 L198.69,301.10 L199.21,301.10 L199.73,301.10 L200.25,301.10 L200.77,301.10 L201.28,301.10 L201.80,301.10 L202.32,301.09 L202.84,301.09 L203.36,301.09 L203.87,301.09 L204.39,301.08 L204.91,301.08 L205.43,301.07 L205.95,301.06 L206.46,301.05 L206.98,301.03 L207.50,301.01 L208.02,300.98 L208.54,300.94 L209.05,300.88 L209.57,300.82 L210.09,300.73 L210.61,300.61 L211.13,300.46 L211.64,300.27 L212.16,300.01 L212.68,299.68 L213.20,299.26 L213.72,298.73 L214.23,298.05 L214.75,297.20 L215.27,296.16 L215.79,294.90 L216.31,293.40 L216.82,291.65 L217.34,289.68 L217.86,287.51 L218.38,285.20 L218.90,282.81 L219.41,280.43 L219.93,278.13 L220.45,275.95 L220.97,273.96 L221.49,272.17 L222.00,270.59 L222.52,269.20 L223.04,268.00 L223.56,266.96 L224.08,266.05 L224.59,265.26 L225.11,264.57 L225.63,263.96 L226.15,263.40 L226.67,262.90 L227.18,262.43 L227.70,262.00 L228.22,261.59 L228.74,261.20 L229.26,260.83 L229.77,260.46 L230.29,260.11 L230.81,259.76 L231.33,259.42 L231.85,259.09 L232.36,258.76 L232.88,258.43 L233.40,258.10 L233.92,257.78 L234.44,257.46 L234.95,257.13 L235.47,256.81 L235.99,256.49 L236.51,256.18 L237.03,255.86 L237.54,255.54 L238.06,255.23 L238.58,254.91 L239.10,254.60 L239.62,254.28 L240.13,253.97 L240.65,253.65 L241.17,253.34 L241.69,253.03 L242.21,252.72 L242.72,252.41 L243.24,252.10 L243.76,251.78 L244.28,251.47 L244.80,251.16 L245.31,250.86 L245.83,250.55 L246.35,250.24 L246.87,249.93 L247.39,249.62 L247.90,249.32 L248.42,249.01 L248.94,248.70 L249.46,248.40 L249.98,248.09 L250.49,247.79 L251.01,247.48 L251.53,247.18 L252.05,246.87 L252.57,246.57 L253.08,246.27 L253.60,245.96 L254.12,245.66 L254.64,245.36 L255.16,245.06 L255.67,244.76 L256.19,244.46 L256.71,244.16 L257.23,243.86 L257.75,243.56 L258.26,243.26 L258.78,242.96 L259.30,242.66 L259.82,242.37 L260.34,242.07 L260.85,241.77 L261.37,241.47 L261.89,241.18 L262.41,240.88 L262.93,240.59 L263.44,240.29 L263.96,240.00 L264.48,239.70 L265.00,239.41 L265.52,239.12 L266.03,238.82 L266.55,238.53 L267.07,238.24 L267.59,237.95 L268.11,237.66" fill="none" stroke="#ff00ff" stroke-width="4.0" stroke-linecap="round" stroke-linejoin="round"/>
<text x="78.4" y="250.5" font-size="20.5" stroke="#000" stroke-width="0.25">C</text>
<path d="M305.2,392.5 H532.8" fill="none" stroke="#8f8f8f" stroke-width="0.9"/>
<path d="M305.2,222.1 V392.5" fill="none" stroke="#5e5e5e" stroke-width="1"/>
<path d="M305.2,392.1 v4 M350.7,392.1 v4 M396.2,392.1 v4 M441.8,392.1 v4 M487.3,392.1 v4 M532.8,392.1 v4 M328.0,392.1 v1.9 M373.5,392.1 v1.9 M419.0,392.1 v1.9 M464.5,392.1 v1.9 M510.0,392.1 v1.9 " fill="none" stroke="#444" stroke-width="0.9"/>
<path d="M305.59999999999997,222.4 h-4 M305.59999999999997,256.4 h-4 M305.59999999999997,290.4 h-4 M305.59999999999997,324.4 h-4 M305.59999999999997,358.4 h-4 M305.59999999999997,392.4 h-4 M305.59999999999997,239.4 h-2.0 M305.59999999999997,273.4 h-2.0 M305.59999999999997,307.4 h-2.0 M305.59999999999997,341.4 h-2.0 M305.59999999999997,375.4 h-2.0 " fill="none" stroke="#777" stroke-width="0.9"/>
<text x="305.2" y="406.7" font-size="10.8" text-anchor="middle" fill="#1a1a1a" stroke="#1a1a1a" stroke-width="0.15">200</text>
<text x="350.7" y="406.7" font-size="10.8" text-anchor="middle" fill="#1a1a1a" stroke="#1a1a1a" stroke-width="0.15">240</text>
<text x="396.2" y="406.7" font-size="10.8" text-anchor="middle" fill="#1a1a1a" stroke="#1a1a1a" stroke-width="0.15">280</text>
<text x="441.8" y="406.7" font-size="10.8" text-anchor="middle" fill="#1a1a1a" stroke="#1a1a1a" stroke-width="0.15">320</text>
<text x="487.3" y="406.7" font-size="10.8" text-anchor="middle" fill="#1a1a1a" stroke="#1a1a1a" stroke-width="0.15">360</text>
<text x="532.8" y="406.7" font-size="10.8" text-anchor="middle" fill="#1a1a1a" stroke="#1a1a1a" stroke-width="0.15">400</text>
<text x="299.0" y="226.1" font-size="10.8" text-anchor="end" fill="#1a1a1a" stroke="#1a1a1a" stroke-width="0.15">0</text>
<text x="299.0" y="260.0" font-size="10.8" text-anchor="end" fill="#1a1a1a" stroke="#1a1a1a" stroke-width="0.15">-2</text>
<text x="299.0" y="294.0" font-size="10.8" text-anchor="end" fill="#1a1a1a" stroke="#1a1a1a" stroke-width="0.15">-4</text>
<text x="299.0" y="328.0" font-size="10.8" text-anchor="end" fill="#1a1a1a" stroke="#1a1a1a" stroke-width="0.15">-6</text>
<text x="299.0" y="362.0" font-size="10.8" text-anchor="end" fill="#1a1a1a" stroke="#1a1a1a" stroke-width="0.15">-8</text>
<text x="299.0" y="396.0" font-size="10.8" text-anchor="end" fill="#1a1a1a" stroke="#1a1a1a" stroke-width="0.15">-10</text>
<clipPath id="cd"><rect x="300" y="200" width="250" height="192.5"/></clipPath>
<path d="M330.24,452.96 L330.52,450.10 L330.81,447.25 L331.09,444.41 L331.37,441.60 L331.66,438.79 L331.94,436.00 L332.23,433.23 L332.51,430.47 L332.80,427.72 L333.08,424.99 L333.37,422.28 L333.65,419.58 L333.93,416.89 L334.22,414.22 L334.50,411.56 L334.79,408.92 L335.07,406.30 L335.36,403.68 L335.64,401.09 L335.93,398.51 L336.21,395.94 L336.50,393.39 L336.78,390.85 L337.06,388.32 L337.35,385.82 L337.63,383.32 L337.92,380.85 L338.20,378.38 L338.49,375.93 L338.77,373.50 L339.06,371.08 L339.34,368.68 L339.62,366.29 L339.91,363.91 L340.19,361.55 L340.48,359.21 L340.76,356.87 L341.05,354.56 L341.33,352.26 L341.62,349.97 L341.90,347.70 L342.19,345.44 L342.47,343.20 L342.75,340.97 L343.04,338.76 L343.32,336.56 L343.61,334.38 L343.89,332.21 L344.18,330.06 L344.46,327.92 L344.75,325.80 L345.03,323.69 L345.31,321.59 L345.60,319.51 L345.88,317.44 L346.17,315.39 L346.45,313.35 L346.74,311.33 L347.02,309.32 L347.31,307.33 L347.59,305.35 L347.88,303.38 L348.16,301.43 L348.44,299.49 L348.73,297.56 L349.01,295.65 L349.30,293.75 L349.58,291.87 L349.87,289.99 L350.15,288.13 L350.44,286.29 L350.72,284.45 L351.00,282.63 L351.29,280.82 L351.57,279.01 L351.86,277.22 L352.14,275.44 L352.43,273.67 L352.71,271.91 L353.00,270.16 L353.28,268.41 L353.56,266.67 L353.85,264.94 L354.13,263.22 L354.42,261.49 L354.70,259.78 L354.99,258.07 L355.27,256.36 L355.56,254.65 L355.84,252.95 L356.13,251.25 L356.41,249.56 L356.69,247.86 L356.98,246.18 L357.26,244.51 L357.55,242.84 L357.83,241.19 L358.12,239.56 L358.40,237.96 L358.69,236.39 L358.97,234.86 L359.25,233.38 L359.54,231.96 L359.82,230.61 L360.11,229.34 L360.39,228.15 L360.68,227.05 L360.96,226.06 L361.25,225.17 L361.53,224.38 L361.82,223.70 L362.10,223.12 L362.38,222.64 L362.67,222.25 L362.95,221.95 L363.24,221.71 L363.52,221.54 L363.81,221.42 L364.09,221.35 L364.38,221.32 L364.66,221.31 L364.94,221.33 L365.23,221.37 L365.51,221.42 L365.80,221.47 L366.08,221.53 L366.37,221.60 L366.65,221.66 L366.94,221.72 L367.22,221.79 L367.51,221.84 L367.79,221.90 L368.07,221.95 L368.36,222.00 L368.64,222.04 L368.93,222.08 L369.21,222.11 L369.50,222.15 L369.78,222.18 L370.07,222.20 L370.35,222.22 L370.63,222.25 L370.92,222.26 L371.20,222.28 L371.49,222.30 L371.77,222.31 L372.06,222.32 L372.34,222.33 L372.63,222.34 L372.91,222.35 L373.20,222.35 L373.48,222.36 L373.76,222.36 L374.05,222.37 L374.33,222.37 L374.62,222.38 L374.90,222.38 L375.19,222.38 L375.47,222.38 L375.76,222.39 L376.04,222.39 L376.32,222.39 L376.61,222.39 L376.89,222.39 L377.18,222.39 L377.46,222.39 L377.75,222.40 L378.03,222.40 L378.32,222.40 L378.60,222.40 L378.89,222.40 L379.17,222.40 L379.45,222.40 L379.74,222.40 L380.02,222.40 L380.31,222.40 L380.59,222.40 L380.88,222.40 L381.16,222.40 L381.45,222.40 L381.73,222.40 L382.01,222.40 L382.30,222.40 L382.58,222.40 L382.87,222.40 L383.15,222.40 L383.44,222.40 L383.72,222.40 L384.01,222.40 L384.29,222.40 L384.58,222.40 L384.86,222.40 L385.14,222.40 L385.43,222.40 L385.71,222.40 L386.00,222.40 L386.28,222.40 L386.57,222.40 L386.85,222.40 L387.14,222.40 L387.42,222.40 L387.70,222.40 L387.99,222.40 L388.27,222.40 L388.56,222.40 L388.84,222.40 L389.13,222.40 L389.41,222.40 L389.70,222.40 L389.98,222.40 L390.27,222.40 L390.55,222.40 L390.83,222.40 L391.12,222.40 L391.40,222.40 L391.69,222.40 L391.97,222.40 L392.26,222.40 L392.54,222.40 L392.83,222.40 L393.11,222.40 L393.39,222.40 L393.68,222.40 L393.96,222.40 L394.25,222.40 L394.53,222.40 L394.82,222.40 L395.10,222.40 L395.39,222.40 L395.67,222.40 L395.96,222.40 L396.24,222.40 L396.52,222.40 L396.81,222.40 L397.09,222.40 L397.38,222.40 L397.66,222.40 L397.95,222.40 L398.23,222.40 L398.52,222.40 L398.80,222.40 L399.08,222.40 L399.37,222.40 L399.65,222.40 L399.94,222.40 L400.22,222.40 L400.51,222.40 L400.79,222.40 L401.08,222.40 L401.36,222.40 L401.65,222.40 L401.93,222.40 L402.21,222.40 L402.50,222.40 L402.78,222.40 L403.07,222.40 L403.35,222.40 L403.64,222.40 L403.92,222.40 L404.21,222.40 L404.49,222.40 L404.77,222.40 L405.06,222.40 L405.34,222.40 L405.63,222.40 L405.91,222.40 L406.20,222.40 L406.48,222.40 L406.77,222.40 L407.05,222.40 L407.34,222.40 L407.62,222.40 L407.90,222.40 L408.19,222.40 L408.47,222.40 L408.76,222.40 L409.04,222.40 L409.33,222.40 L409.61,222.40 L409.90,222.40 L410.18,222.40 L410.46,222.40 L410.75,222.40 L411.03,222.40 L411.32,222.40 L411.60,222.40 L411.89,222.40 L412.17,222.40 L412.46,222.40 L412.74,222.40 L413.03,222.40 L413.31,222.40 L413.59,222.40 L413.88,222.40 L414.16,222.40 L414.45,222.40 L414.73,222.40 L415.02,222.40 L415.30,222.40 L415.59,222.40 L415.87,222.40 L416.15,222.40 L416.44,222.40 L416.72,222.40 L417.01,222.40 L417.29,222.40 L417.58,222.40 L417.86,222.40 L418.15,222.40 L418.43,222.40 L418.72,222.40 L419.00,222.40 L419.28,222.40 L419.57,222.40 L419.85,222.40 L420.14,222.40 L420.42,222.40 L420.71,222.40 L420.99,222.40 L421.28,222.40 L421.56,222.40 L421.84,222.40 L422.13,222.40 L422.41,222.40 L422.70,222.40 L422.98,222.40 L423.27,222.40 L423.55,222.40 L423.84,222.40 L424.12,222.40 L424.41,222.40 L424.69,222.40 L424.97,222.40 L425.26,222.40 L425.54,222.40 L425.83,222.40 L426.11,222.40 L426.40,222.40 L426.68,222.40 L426.97,222.40 L427.25,222.40 L427.53,222.40 L427.82,222.40 L428.10,222.40 L428.39,222.40 L428.67,222.40 L428.96,222.40 L429.24,222.40 L429.53,222.40 L429.81,222.40 L430.10,222.40 L430.38,222.40 L430.66,222.40 L430.95,222.40 L431.23,222.40 L431.52,222.40 L431.80,222.40 L432.09,222.40 L432.37,222.40 L432.66,222.40 L432.94,222.40 L433.22,222.40 L433.51,222.40 L433.79,222.40 L434.08,222.40 L434.36,222.40 L434.65,222.40 L434.93,222.40 L435.22,222.40 L435.50,222.40 L435.79,222.40 L436.07,222.40 L436.35,222.40 L436.64,222.40 L436.92,222.40 L437.21,222.40 L437.49,222.40 L437.78,222.40 L438.06,222.40 L438.35,222.40 L438.63,222.40 L438.91,222.40 L439.20,222.40 L439.48,222.40 L439.77,222.40 L440.05,222.40 L440.34,222.40 L440.62,222.40 L440.91,222.40 L441.19,222.40 L441.48,222.40 L441.76,222.40 L442.04,222.40 L442.33,222.40 L442.61,222.40 L442.90,222.40 L443.18,222.40 L443.47,222.39 L443.75,222.39 L444.04,222.39 L444.32,222.39 L444.61,222.39 L444.89,222.39 L445.17,222.39 L445.46,222.39 L445.74,222.38 L446.03,222.38 L446.31,222.38 L446.60,222.37 L446.88,222.37 L447.17,222.37 L447.45,222.36 L447.73,222.36 L448.02,222.35 L448.30,222.34 L448.59,222.33 L448.87,222.32 L449.16,222.31 L449.44,222.30 L449.73,222.29 L450.01,222.27 L450.29,222.25 L450.58,222.23 L450.86,222.21 L451.15,222.19 L451.43,222.16 L451.72,222.13 L452.00,222.09 L452.29,222.05 L452.57,222.01 L452.86,221.96 L453.14,221.91 L453.42,221.85 L453.71,221.79 L453.99,221.72 L454.28,221.65 L454.56,221.57 L454.85,221.49 L455.13,221.41 L455.42,221.32 L455.70,221.23 L455.99,221.15 L456.27,221.07 L456.55,221.00 L456.84,220.94 L457.12,220.90 L457.41,220.88 L457.69,220.90 L457.98,220.96 L458.26,221.07 L458.55,221.24 L458.83,221.48 L459.11,221.80 L459.40,222.21 L459.68,222.72 L459.97,223.33 L460.25,224.06 L460.54,224.90 L460.82,225.85 L461.11,226.92 L461.39,228.08 L461.67,229.35 L461.96,230.70 L462.24,232.14 L462.53,233.63 L462.81,235.19 L463.10,236.79 L463.38,238.43 L463.67,240.10 L463.95,241.79 L464.24,243.49 L464.52,245.20 L464.80,246.91 L465.09,248.62 L465.37,250.34 L465.66,252.05 L465.94,253.76 L466.23,255.46 L466.51,257.16 L466.80,258.85 L467.08,260.54 L467.37,262.23 L467.65,263.91 L467.93,265.60 L468.22,267.27 L468.50,268.95 L468.79,270.63 L469.07,272.31 L469.36,273.99 L469.64,275.67 L469.93,277.35 L470.21,279.03 L470.49,280.72 L470.78,282.41 L471.06,284.11 L471.35,285.81 L471.63,287.51 L471.92,289.22 L472.20,290.94 L472.49,292.66 L472.77,294.38 L473.05,296.11 L473.34,297.85 L473.62,299.60 L473.91,301.35 L474.19,303.10 L474.48,304.86 L474.76,306.63 L475.05,308.41 L475.33,310.19 L475.62,311.98 L475.90,313.78 L476.18,315.58 L476.47,317.39 L476.75,319.21 L477.04,321.04 L477.32,322.87 L477.61,324.71 L477.89,326.55 L478.18,328.41 L478.46,330.27 L478.75,332.13 L479.03,334.01 L479.31,335.89 L479.60,337.78 L479.88,339.68 L480.17,341.58 L480.45,343.49 L480.74,345.41 L481.02,347.34 L481.31,349.27 L481.59,351.21 L481.87,353.16 L482.16,355.11 L482.44,357.07 L482.73,359.04 L483.01,361.02 L483.30,363.01 L483.58,365.00 L483.87,367.00 L484.15,369.00 L484.43,371.01 L484.72,373.03 L485.00,375.06 L485.29,377.10 L485.57,379.14 L485.86,381.19 L486.14,383.25 L486.43,385.31 L486.71,387.38 L487.00,389.46 L487.28,391.55 L487.56,393.64 L487.85,395.74 L488.13,397.85 L488.42,399.97 L488.70,402.09 L488.99,404.22 L489.27,406.36 L489.56,408.50 L489.84,410.66 L490.12,412.82 L490.41,414.98 L490.69,417.16 L490.98,419.34 L491.26,421.53 L491.55,423.72 L491.83,425.93 L492.12,428.14 L492.40,430.35 L492.69,432.58 L492.97,434.81 L493.25,437.05 L493.54,439.30 L493.82,441.55 L494.11,443.82" fill="none" stroke="#ff00ff" stroke-width="4.0" stroke-linecap="butt" stroke-linejoin="round" clip-path="url(#cd)"/>
<path d="M350.4,222.5 H475" stroke="#000" stroke-width="3.6" fill="none"/>
<text x="323.0" y="248.8" font-size="20.5" stroke="#000" stroke-width="0.25">D</text>
<text transform="translate(22.4,110.5) rotate(-90)" font-size="15.1" text-anchor="middle" stroke="#000" stroke-width="0.2">enthalpy H<tspan dx="0" dy="5.59" font-size="10.57">NU</tspan><tspan dx="0" dy="-5.59">​</tspan>*Θ<tspan dx="0" dy="5.59" font-size="10.57">U</tspan><tspan dx="0" dy="-5.59">​</tspan> (kcal/mol)</text>
<text transform="translate(280.2,100.9) rotate(-90)" font-size="15" text-anchor="middle" stroke="#000" stroke-width="0.2">heat capacity C<tspan dx="-1.6" dy="4.50" font-size="10.50">p</tspan><tspan dx="1.6" dy="-4.50">​</tspan> (kcal/molK)</text>
<text transform="translate(24.7,305.9) rotate(-90)" font-size="14.9" text-anchor="middle" stroke="#000" stroke-width="0.2">entropy S<tspan dx="0" dy="5.51" font-size="10.43">NU</tspan><tspan dx="0" dy="-5.51">​</tspan>*Θ<tspan dx="0" dy="5.51" font-size="10.43">U</tspan><tspan dx="0" dy="-5.51">​</tspan> (kcal/molK</text>
<text transform="translate(276.5,305.6) rotate(-90)" font-size="11.9" text-anchor="middle" stroke="#000" stroke-width="0.2">Gibbs energy G<tspan dx="0" dy="4.40" font-size="8.33">NU</tspan><tspan dx="0" dy="-4.40">​</tspan>*Θ<tspan dx="0" dy="4.40" font-size="8.33">U</tspan><tspan dx="0" dy="-4.40">​</tspan> (kcal/mol)</text>
<text x="239" y="425.1" font-size="15" stroke="#000" stroke-width="0.2">temperature (K))</text>
</svg>
</body></html>
